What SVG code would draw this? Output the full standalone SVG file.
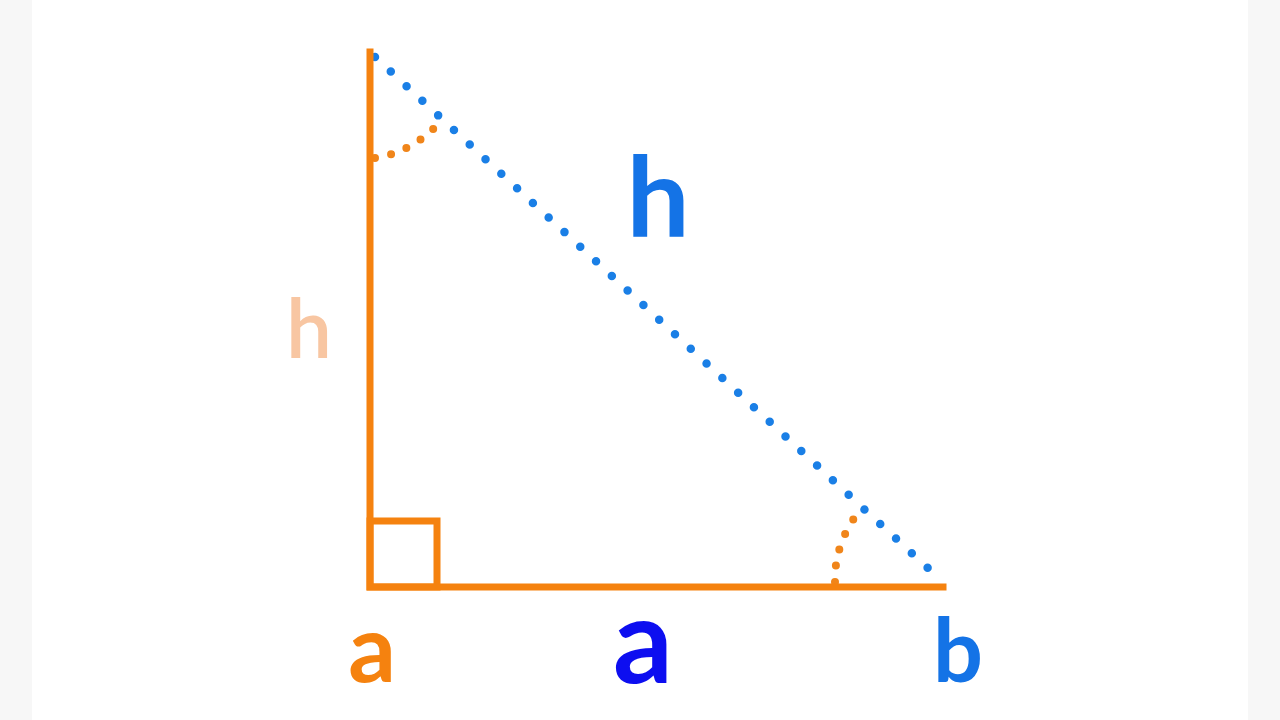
<svg xmlns="http://www.w3.org/2000/svg" width="1280" height="720" viewBox="0 0 1280 720">
<style>
.side{fill:#f7f7f7}
.leg{stroke:#f5820f;stroke-width:7;fill:none;stroke-linecap:square}
.dotb{stroke:#1a7fe6;stroke-width:8.5;stroke-linecap:round;stroke-dasharray:0 21.5;fill:none}
.doto{stroke:#f0851a;stroke-width:8;stroke-linecap:round;stroke-dasharray:0 16.5;fill:none}
.lbl{font-family:"Lato","Liberation Sans",sans-serif;font-weight:bold}
</style>
<rect width="1280" height="720" fill="#ffffff"/>
<rect class="side" x="0" y="0" width="32" height="720"/>
<rect class="side" x="1248" y="0" width="32" height="720"/>
<g id="connectors">
<path class="dotb" d="M375,57 L943,582"/>
<path class="doto" d="M375,158 A106,106 0 0 0 436,126"/>
<path class="doto" d="M835,582 A108,108 0 0 1 855,517"/>
</g>
<g id="triangle">
<path class="leg" d="M370,52 L370,587 L943,587"/>
<rect class="leg" x="370" y="521" width="67" height="66"/>
</g>
<g id="labels">
<text class="lbl" x="658" y="237" font-size="112" fill="#1473e6" text-anchor="middle">h</text>
<text x="309" y="358" font-size="82" fill="#f8c6a2" text-anchor="middle" font-family="Lato,'Liberation Sans',sans-serif" font-weight="600">h</text>
<text class="lbl" x="372" y="682" font-size="94" fill="#f5820f" text-anchor="middle">a</text>
<text class="lbl" x="643" y="683" font-size="118" fill="#0d0ef0" text-anchor="middle">a</text>
<text class="lbl" x="958" y="682" font-size="88" fill="#1473e6" text-anchor="middle">b</text>
</g>
</svg>
